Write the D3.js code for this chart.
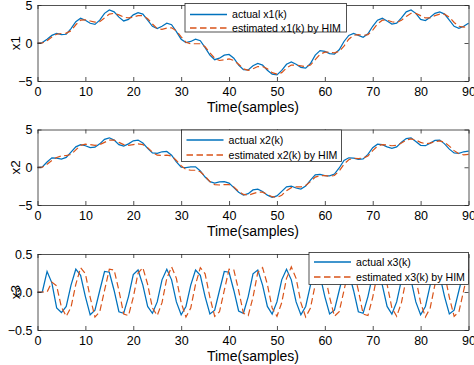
<!DOCTYPE html>
<html>
<head>
<meta charset="utf-8" />
<title>HIM estimation</title>
<script src="https://cdn.jsdelivr.net/npm/d3@7"></script>
<style>
  body { margin: 0; background: #fff; }
  text { font-family: "Liberation Sans", Arial, Helvetica, sans-serif; fill: #000; }
</style>
</head>
<body>
<script>
// sample index k = 0..90
var samples = d3.range(0, 91);
var xTicks = [0, 10, 20, 30, 40, 50, 60, 70, 80, 90];

var actualX1 = [0, 0.05, 0.5, 1.0, 1.25, 1.1, 1.15, 1.9, 2.8, 3.25, 3.0, 2.6, 2.45, 3.0, 3.9, 4.35, 4.1, 3.4, 2.9, 3.1,
  3.7, 4.0, 3.8, 3.0, 2.2, 1.9, 2.2, 2.6, 2.4, 1.5, 0.5, 0.05, 0.2, 0.5, 0.3, -0.6, -1.6, -2.2, -2.0, -1.6,
  -1.5, -2.0, -2.9, -3.5, -3.55, -3.0, -2.7, -2.9, -3.6, -4.1, -4.2, -3.6, -2.8, -2.5, -2.8, -3.2, -3.3, -2.7, -1.6, -1.0,
  -1.1, -1.4, -1.45, -0.9, 0.2, 1.0, 1.27, 1.0, 0.75, 1.2, 2.2, 3.0, 3.25, 2.9, 2.5, 2.6, 3.3, 4.1, 4.35, 3.9,
  3.1, 2.95, 3.4, 3.9, 4.1, 3.8, 3.0, 2.2, 1.93, 2.2, 2.6];
var estX1 = [0, 0, 0.3, 0.8, 1.15, 1.25, 1.3, 1.6, 2.4, 3.0, 3.05, 2.9, 2.75, 2.8, 3.3, 3.8, 3.9, 3.7, 3.4, 3.3,
  3.4, 3.6, 3.6, 3.2, 2.5, 1.9, 1.8, 1.95, 2.0, 1.6, 0.8, 0.1, -0.1, -0.1, -0.1, -0.5, -1.3, -2.0, -2.3, -2.2,
  -2.1, -2.3, -2.8, -3.4, -3.6, -3.4, -3.1, -3.1, -3.4, -3.9, -4.1, -3.9, -3.3, -2.9, -2.9, -3.0, -3.1, -2.9, -2.2, -1.5,
  -1.2, -1.2, -1.3, -1.1, -0.4, 0.5, 1.0, 1.1, 1.0, 1.1, 1.7, 2.5, 3.0, 3.0, 2.8, 2.7, 3.0, 3.5, 3.9, 3.9,
  3.6, 3.3, 3.3, 3.6, 3.8, 3.8, 3.4, 2.7, 2.2, 2.1, 2.2];

var actualX2 = [0, 0.05, 0.7, 1.25, 1.2, 1.08, 1.3, 2.0, 2.7, 3.0, 2.85, 2.6, 2.65, 3.1, 3.7, 3.9, 3.6, 3.0, 2.8, 3.1,
  3.5, 3.6, 3.2, 2.5, 1.9, 1.85, 2.05, 2.1, 1.6, 0.7, 0.0, -0.05, 0.05, 0.05, -0.5, -1.3, -1.9, -2.1, -1.95, -1.9,
  -2.1, -2.7, -3.3, -3.7, -3.5, -3.0, -2.9, -3.2, -3.7, -4.0, -3.8, -3.2, -2.6, -2.5, -2.75, -2.9, -2.5, -1.7, -1.0, -0.95,
  -1.1, -1.15, -0.9, -0.1, 0.9, 1.25, 1.2, 1.05, 1.1, 1.7, 2.6, 3.05, 3.0, 2.7, 2.5, 2.7, 3.3, 3.8, 3.9, 3.4,
  2.9, 2.85, 3.2, 3.55, 3.6, 3.1, 2.4, 1.9, 1.85, 2.05, 2.14];
var estX2 = [0, 0, 0.4, 0.9, 1.3, 1.5, 1.55, 1.7, 2.3, 2.9, 3.05, 3.0, 2.9, 3.0, 3.3, 3.6, 3.6, 3.3, 3.0, 2.9,
  3.0, 3.1, 3.0, 2.6, 2.0, 1.6, 1.55, 1.6, 1.5, 0.9, 0.2, -0.3, -0.4, -0.4, -0.6, -1.2, -1.9, -2.3, -2.35, -2.3,
  -2.3, -2.6, -3.2, -3.6, -3.7, -3.5, -3.3, -3.3, -3.6, -3.9, -4.0, -3.7, -3.1, -2.7, -2.6, -2.6, -2.4, -1.9, -1.3, -1.1,
  -1.1, -1.2, -1.1, -0.5, 0.4, 1.0, 1.2, 1.15, 1.2, 1.5, 2.2, 2.8, 3.0, 2.95, 2.85, 2.9, 3.2, 3.6, 3.75, 3.6,
  3.3, 3.1, 3.2, 3.4, 3.5, 3.3, 2.8, 2.2, 1.8, 1.65, 1.7];

var actualX3 = [0, 0, 0.27, 0.12, -0.21, -0.27, -0.19, 0.09, 0.30, 0.22, -0.06, -0.30, -0.24, 0.02, 0.27, 0.26, 0.02, -0.26, -0.28, -0.06,
  0.23, 0.29, 0.09, -0.19, -0.28, -0.13, 0.16, 0.30, 0.16, -0.13, -0.30, -0.19, 0.09, 0.29, 0.22, -0.06, -0.29, -0.24, 0.02, 0.27,
  0.26, 0.02, -0.25, -0.28, -0.06, 0.24, 0.29, 0.09, -0.19, -0.29, -0.13, 0.16, 0.30, 0.16, -0.13, -0.30, -0.19, 0.09, 0.29, 0.22,
  -0.06, -0.29, -0.24, 0.02, 0.27, 0.26, 0.02, -0.26, -0.28, -0.06, 0.23, 0.29, 0.09, -0.19, -0.29, -0.13, 0.16, 0.30, 0.16, -0.13,
  -0.30, -0.19, 0.09, 0.29, 0.22, -0.06, -0.29, -0.24, 0.02, 0.27, 0.26];
var estX3 = [0, 0, 0.0, 0.13, 0.08, -0.2, -0.32, -0.2, 0.1, 0.32, 0.24, -0.07, -0.33, -0.26, 0.02, 0.3, 0.29, 0.02, -0.29, -0.31,
  -0.07, 0.25, 0.32, 0.1, -0.21, -0.31, -0.14, 0.18, 0.33, 0.18, -0.14, -0.33, -0.21, 0.1, 0.32, 0.24, -0.07, -0.32, -0.26, 0.02,
  0.3, 0.29, 0.02, -0.28, -0.31, -0.07, 0.26, 0.32, 0.1, -0.21, -0.32, -0.14, 0.18, 0.33, 0.18, -0.14, -0.33, -0.21, 0.1, 0.32,
  0.24, -0.07, -0.32, -0.26, 0.02, 0.3, 0.29, 0.02, -0.29, -0.31, -0.07, 0.25, 0.32, 0.1, -0.21, -0.32, -0.14, 0.18, 0.33, 0.18,
  -0.14, -0.33, -0.21, 0.1, 0.32, 0.24, -0.07, -0.32, -0.26, 0.02, 0.3];

var yTicksX12 = [-5, 0, 5];
var yTicksX3 = [-0.5, 0, 0.5];
var yLabels = ["x1", "x2", "x3"];
var legendActual = ["actual x1(k)", "actual x2(k)", "actual x3(k)"];
var legendEst = ["estimated x1(k) by HIM", "estimated x2(k) by HIM", "estimated x3(k) by HIM"];

var W = 474, H = 365;
var left = 37.5, right = 468.5;
var blue = "#0072BD", red = "#D95319", axisCol = "#262626";
var dash = "6.5,3.5";

var svg = d3.select("body").append("svg")
  .attr("width", W).attr("height", H);

function drawPanel(cfg) {
  var x = d3.scaleLinear().domain([0, 90]).range([left, right]);
  var y = d3.scaleLinear().domain(cfg.yDomain).range([cfg.bottom, cfg.top]);
  var g = svg.append("g");

  var line = d3.line()
    .x(function (d, i) { return x(samples[i]); })
    .y(function (d) { return y(d); });

  g.append("path").attr("d", line(cfg.actual))
    .attr("fill", "none").attr("stroke", blue).attr("stroke-width", 1.25);
  g.append("path").attr("d", line(cfg.est))
    .attr("fill", "none").attr("stroke", red).attr("stroke-width", 1.2)
    .attr("stroke-dasharray", dash);

  // axes: MATLAB style inner ticks, box
  var tl = 4;
  g.append("g").attr("transform", "translate(0," + cfg.bottom + ")")
    .call(d3.axisBottom(x).tickValues(xTicks).tickSizeInner(-tl).tickSizeOuter(0).tickPadding(6));
  g.append("g").attr("transform", "translate(0," + cfg.top + ")")
    .call(d3.axisTop(x).tickValues(xTicks).tickSizeInner(-tl).tickSizeOuter(0).tickFormat(""));
  g.append("g").attr("transform", "translate(" + left + ",0)")
    .call(d3.axisLeft(y).tickValues(cfg.yTicks).tickSizeInner(-tl).tickSizeOuter(0).tickPadding(5));
  g.append("g").attr("transform", "translate(" + right + ",0)")
    .call(d3.axisRight(y).tickValues(cfg.yTicks).tickSizeInner(-tl).tickSizeOuter(0).tickFormat(""));

  g.selectAll(".domain").attr("stroke", axisCol).attr("stroke-width", 0.8);
  g.selectAll(".tick line").attr("stroke", axisCol).attr("stroke-width", 0.8);
  g.selectAll(".tick text").style("font-family", "'Liberation Sans', Arial, sans-serif")
    .style("font-size", "12.5px").attr("fill", "#000");

  g.append("text")
    .attr("x", (left + right) / 2).attr("y", cfg.bottom + 31)
    .attr("text-anchor", "middle").style("font-size", "14px")
    .text("Time(samples)");
  g.append("text")
    .attr("transform", "translate(20," + ((cfg.top + cfg.bottom) / 2) + ") rotate(-90)")
    .attr("text-anchor", "middle").style("font-size", "13.5px")
    .text(cfg.yLabel);

  // legend
  var L = cfg.legend;
  var lg = g.append("g").attr("transform", "translate(" + L.x + "," + L.y + ")");
  lg.append("rect").attr("width", L.w).attr("height", L.h)
    .attr("fill", "#fff").attr("stroke", axisCol).attr("stroke-width", 0.8);
  [[cfg.legendA, blue, null], [cfg.legendE, red, dash]].forEach(function (it, i) {
    var ry = L.row0 + i * L.step;
    lg.append("line").attr("x1", 5).attr("x2", 42).attr("y1", ry).attr("y2", ry)
      .attr("stroke", it[1]).attr("stroke-width", 1.3).attr("stroke-dasharray", it[2]);
    lg.append("text").attr("x", 47).attr("y", ry + 3.8)
      .style("font-size", "10.6px").text(it[0]);
  });
}

drawPanel({ top: 5, bottom: 81, yDomain: [-5, 5], yTicks: yTicksX12, actual: actualX1, est: estX1,
  yLabel: yLabels[0], legendA: legendActual[0], legendE: legendEst[0],
  legend: { x: 185, y: 3.5, w: 161.5, h: 28.5, row0: 11, step: 13.5 } });
drawPanel({ top: 129.5, bottom: 205, yDomain: [-5, 5], yTicks: yTicksX12, actual: actualX2, est: estX2,
  yLabel: yLabels[1], legendA: legendActual[1], legendE: legendEst[1],
  legend: { x: 181.5, y: 130, w: 160, h: 31.5, row0: 10, step: 15 } });
drawPanel({ top: 254, bottom: 330, yDomain: [-0.5, 0.5], yTicks: yTicksX3, actual: actualX3, est: estX3,
  yLabel: yLabels[2], legendA: legendActual[2], legendE: legendEst[2],
  legend: { x: 309, y: 252.5, w: 159.5, h: 32, row0: 9.5, step: 15 } });
</script>
</body>
</html>
